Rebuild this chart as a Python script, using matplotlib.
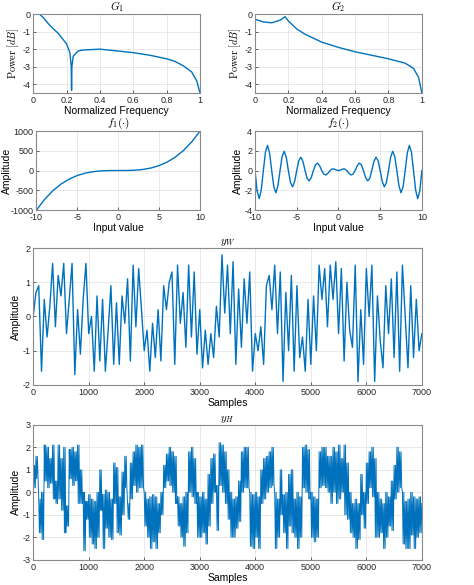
import numpy as np
import matplotlib
matplotlib.use("Agg")
from matplotlib import pyplot as plt

plt.rcParams['font.family'] = ['Liberation Sans', 'DejaVu Sans']
plt.rcParams['mathtext.fontset'] = 'cm'
plt.rcParams['font.size'] = 6
plt.rcParams['axes.unicode_minus'] = False

blue = '#0072BD'

g1_freq = [0, 0.02, 0.04, 0.06, 0.1, 0.15, 0.2, 0.22, 0.228, 0.23, 0.232, 0.24, 0.27, 0.3, 0.4, 0.5, 0.6, 0.7, 0.8, 0.85, 0.9, 0.95, 0.98, 1.0]
g1_pow = [0, 0, -0.02, -0.2, -0.65, -1.1, -1.7, -2.2, -3.0, -4.35, -3.0, -2.4, -2.1, -2.05, -2.0, -2.1, -2.2, -2.35, -2.55, -2.7, -2.95, -3.3, -3.8, -4.5]
g2_freq = [0, 0.05, 0.1, 0.15, 0.18, 0.2, 0.25, 0.3, 0.4, 0.5, 0.6, 0.7, 0.8, 0.9, 0.95, 0.98, 1.0]
g2_pow = [-0.3, -0.45, -0.5, -0.35, -0.15, -0.4, -0.85, -1.15, -1.6, -1.9, -2.15, -2.35, -2.55, -2.8, -3.1, -3.6, -4.5]

f1_x = list(range(-10, 11))
f1_y = [-1000, -729, -512, -343, -216, -125, -64, -27, -8, -1, 0, 1, 8, 27, 64, 125, 216, 343, 512, 729, 1000]

f2_x = [i * 0.25 - 10 for i in range(81)]
f2_pos = [0, .05, .15, .16, 0, -.27, -.45, -.37, 0, .48, .75, .58, 0, -.69, -1.05, -.80, 0, .90, 1.35, 1.01,
          0, -1.11, -1.65, -1.22, 0, 1.33, 1.95, 1.43, 0, -1.54, -2.25, -1.64, 0, 1.75, 2.55, 1.86, 0, -1.96, -2.85, -2.07, 0]
f2_y = f2_pos[::-1][:-1] + f2_pos

yw = [0.0, 0.7, 0.9, -1.6, 0.5, -0.6, 0.3, 1.55, -0.3, 1.2,
      0.6, 1.55, -0.5, 0.5, 1.55, -1.7, 0.2, -1.1, 0.5, 1.55,
      -0.5, 0.0, -1.6, 0.6, -1.3, 0.5, -1.6, -0.4, 0.9, -1.4,
      0.4, -1.4, 0.6, -0.2, 1.1, -1.3, 1.5, -0.3, 1.4, 0.2,
      -1.0, -0.4, -1.6, -0.2, -1.2, 0.2, -1.3, 0.9, 0.2, 1.0,
      1.3, -1.4, 1.5, -0.2, 0.7, -0.9, 1.5, -0.6, 1.3, -1.1,
      0.2, -1.5, -0.4, -1.4, -0.5, -1.2, 0.3, -0.6, 1.8, 0.1,
      1.5, -0.5, 1.6, -1.4, 0.8, -0.9, 1.1, -0.2, 1.3, -1.6,
      -0.5, -1.0, -0.3, -1.4, 0.9, 1.2, 0.2, 1.5, -0.5, 1.3,
      -1.9, 0.7, -1.0, 1.2, -1.6, 0.9, -1.2, -0.6, -1.6, 0.5,
      -1.4, 0.6, -1.0, 1.5, 0.5, 1.4, -0.3, 1.5, 0.5, 1.6,
      -0.5, 1.4, -1.3, 1.0, -0.4, -0.9, 1.5, -1.9, 0.2, -1.4,
      1.4, 0.0, 1.5, -1.9, 0.6, -0.7, -1.5, 0.9, -0.5, 1.1,
      -1.2, 1.3, -1.6, 1.5, 0.0, -1.5, 0.9, -1.2, 0.5, -1.0,
      -0.5]
yw_samples = np.arange(len(yw)) * 50

yh_hi = [1.2, 1.6, -0.3, 0.0, 2.1, 2.0, 1.5, 2.1, 0.5, 2.1,
         1.5, 2.0, -0.6, 1.9, 2.0, 1.8, 2.1, 1.0, 0.0, -0.4,
         -0.1, -0.3, -0.4, 0.0, 1.0, -0.1, 0.1, 0.0, -0.3, 1.3,
         1.1, -0.2, 0.9, 1.6, -0.5, 1.3, 1.8, 2.1, 2.0, 2.1,
         0.0, -0.3, -0.2, -0.1, -0.2, -0.5, 0.0, 1.2, 1.7, 2.0,
         1.8, 1.6, -0.2, -0.5, -0.2, 0.0, 1.8, 2.0, 1.5, 0.0,
         -0.2, 0.0, -0.3, 0.8, 1.5, 1.7, 0.3, 2.2, 2.1, 1.8,
         1.0, 0.0, -0.3, -0.2, 0.5, 1.8, 2.0, 2.0, 0.0, -0.1,
         0.0, -0.2, 1.0, 1.5, 1.6, 1.8, 2.0, 0.0, -0.3, 1.0,
         -0.1, 0.0, 0.8, 1.0, -0.3, 0.0, -0.2, 2.0, 2.1, 1.9,
         0.0, -0.2, -0.3, 1.8, 2.0, 2.0, 1.6, 1.6, 2.0, 1.8,
         2.1, 1.5, 2.1, 1.3, 0.0, -0.5, -0.3, -0.5, 0.8, 0.0,
         1.3, 1.8, 2.0, 1.5, 0.0, -0.3, -0.5, 0.0, -0.2, 0.5,
         1.2, 2.0, 1.8, 0.0, -0.4, -0.3, 0.0, -0.2, -0.3, -0.2,
         -0.5]
yh_lo = [0.2, 0.6, -1.8, -2.1, 0.5, 0.2, 0.4, -0.3, -0.5, -0.3,
         -0.8, -1.8, -1.5, 0.6, 0.3, 0.5, -0.5, -0.5, -2.6, -1.2,
         -2.0, -2.3, -2.5, -2.0, -0.8, -2.5, -1.6, -2.0, -2.1, -0.5,
         -1.8, -1.9, -1.0, 0.2, -1.2, -0.3, 0.3, 0.0, 0.2, 0.2,
         -1.5, -2.0, -2.5, -2.2, -2.5, -1.8, -1.0, 0.2, 0.5, 0.3,
         0.0, -0.5, -1.5, -2.0, -2.4, -1.8, 0.0, -0.2, -0.5, -2.0,
         -2.0, -1.8, -2.3, -1.5, -0.5, 0.0, -1.7, 0.3, 0.0, -0.5,
         -1.2, -2.0, -2.0, -1.6, -1.3, 0.0, 0.2, 0.2, -2.4, -2.5,
         -2.0, -2.5, -0.5, -0.3, 0.0, 0.2, 0.3, -2.5, -2.0, -1.0,
         -1.8, -2.5, -1.5, -1.8, -2.0, -2.5, -2.0, 0.2, 0.0, -0.3,
         -2.0, -2.2, -2.0, 0.2, 0.3, 0.2, 0.0, -0.5, 0.0, -0.5,
         -0.3, 0.0, -1.0, -1.2, -1.8, -2.0, -2.5, -2.1, -1.0, -1.6,
         -0.5, 0.2, -0.2, -2.0, -2.0, -1.8, -2.5, -2.0, -1.5, -1.7,
         -0.3, 0.0, 0.2, -2.3, -2.5, -2.5, -1.9, -2.5, -2.0, -1.8,
         -1.5]
# fast oscillation: swing between upper and lower value, two cycles per 50 samples
pairs = np.column_stack([yh_hi, yh_lo])
yh = np.ravel(np.repeat(pairs, 2, axis=0))[:-3]
yh_samples = np.arange(len(yh)) * 12.5


def style(ax):
    ax.grid(True, color='#e0e0e0', linewidth=0.5)
    ax.set_axisbelow(True)
    for s in ax.spines.values():
        s.set_color('#8a8a8a')
        s.set_linewidth(0.8)
    ax.tick_params(direction='in', length=2, width=0.5, colors='#262626', labelsize=6.5, pad=2)


fig = plt.figure(figsize=(4.74, 5.85), dpi=100)
ax1 = fig.add_axes([0.07, 0.841, 0.352, 0.135])
ax2 = fig.add_axes([0.538, 0.841, 0.352, 0.135])
ax3 = fig.add_axes([0.077, 0.641, 0.345, 0.135])
ax4 = fig.add_axes([0.538, 0.641, 0.352, 0.135])
ax5 = fig.add_axes([0.07, 0.342, 0.82, 0.234])
ax6 = fig.add_axes([0.07, 0.043, 0.82, 0.231])

for ax, f, p, t in [(ax1, g1_freq, g1_pow, r'$G_1$'), (ax2, g2_freq, g2_pow, r'$G_2$')]:
    ax.plot(f, p, color=blue, lw=1)
    ax.set_xlim(0, 1)
    ax.set_ylim(-4.5, 0)
    ax.set_xticks([0, 0.2, 0.4, 0.6, 0.8, 1])
    ax.set_xticklabels(['0', '0.2', '0.4', '0.6', '0.8', '1'])
    ax.set_yticks([0, -1, -2, -3, -4])
    ax.set_title(t, fontsize=8, pad=1)
    ax.set_xlabel('Normalized Frequency', fontsize=7.5, labelpad=1)
    ax.set_ylabel(r'$\mathrm{Power}\ [dB]$', fontsize=7.5, labelpad=1)
    style(ax)

ax3.plot(f1_x, f1_y, color=blue, lw=1)
ax3.set_xlim(-10, 10)
ax3.set_ylim(-1000, 1000)
ax3.set_yticks([-1000, -500, 0, 500, 1000])
ax3.set_title(r'$f_1(\cdot)$', fontsize=8, pad=1)

ax4.plot(f2_x, f2_y, color=blue, lw=1)
ax4.set_xlim(-10, 10)
ax4.set_ylim(-4, 4)
ax4.set_yticks([-4, -2, 0, 2, 4])
ax4.set_title(r'$f_2(\cdot)$', fontsize=8, pad=1)

for ax in (ax3, ax4):
    ax.set_xticks([-10, -5, 0, 5, 10])
    ax.set_xlabel('Input value', fontsize=7.5, labelpad=1)
    ax.set_ylabel('Amplitude', fontsize=7.5, labelpad=1)
    style(ax)
ax3.yaxis.set_label_coords(-0.15, 0.5)

ax5.plot(yw_samples, yw, color=blue, lw=1)
ax5.set_ylim(-2, 2)
ax5.set_yticks([-2, -1, 0, 1, 2])
ax5.set_title(r'$y_W$', fontsize=8, pad=1)
ax6.plot(yh_samples, yh, color=blue, lw=0.7)
ax6.set_ylim(-3, 3)
ax6.set_yticks([-3, -2, -1, 0, 1, 2, 3])
ax6.set_title(r'$y_H$', fontsize=8, pad=1)
for ax in (ax5, ax6):
    ax.set_xlim(0, 7000)
    ax.set_xticks(range(0, 7001, 1000))
    ax.set_xlabel('Samples', fontsize=7.5, labelpad=1)
    ax.set_ylabel('Amplitude', fontsize=7.5, labelpad=1)
    style(ax)

fig.savefig('out.png', dpi=100)
